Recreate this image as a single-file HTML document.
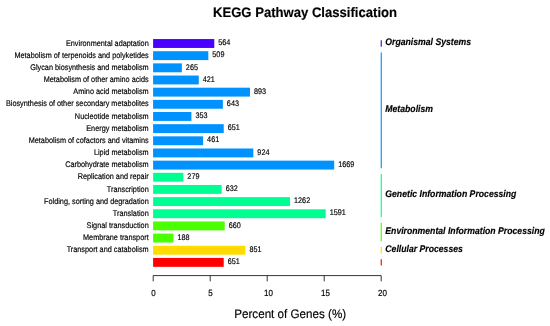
<!DOCTYPE html>
<html><head><meta charset="utf-8"><title>KEGG Pathway Classification</title>
<style>html,body{margin:0;padding:0;background:#fff}svg{display:block}text{text-rendering:geometricPrecision;font-family:"Liberation Sans",Arial,sans-serif;fill:#000;stroke:#000;stroke-width:0.15px}.l{font-size:7.3px;text-anchor:end}.v{font-size:7.25px}.t{font-size:8.0px;text-anchor:middle}.g{font-size:8.68px;font-weight:bold;font-style:italic}</style></head><body>
<svg width="550" height="326" viewBox="0 0 550 326">
<rect width="550" height="326" fill="#fff"/>
<text transform="translate(305.00 17.20) scale(1 1.05)" text-anchor="middle" font-size="13.1" font-weight="bold">KEGG Pathway Classification</text>
<rect x="153.10" y="39.05" width="61.19" height="8.90" fill="#4900FF"/>
<text class="l" transform="translate(148.70 45.60) scale(1 1.12)">Environmental adaptation</text>
<text class="v" transform="translate(218.29 45.20) scale(1 1.12)">564</text>
<rect x="153.10" y="51.21" width="55.23" height="8.90" fill="#0092FF"/>
<text class="l" transform="translate(148.70 57.76) scale(1 1.12)">Metabolism of terpenoids and polyketides</text>
<text class="v" transform="translate(212.33 57.36) scale(1 1.12)">509</text>
<rect x="153.10" y="63.37" width="28.75" height="8.90" fill="#0092FF"/>
<text class="l" transform="translate(148.70 69.92) scale(1 1.12)">Glycan biosynthesis and metabolism</text>
<text class="v" transform="translate(185.85 69.52) scale(1 1.12)">265</text>
<rect x="153.10" y="75.53" width="45.68" height="8.90" fill="#0092FF"/>
<text class="l" transform="translate(148.70 82.08) scale(1 1.12)">Metabolism of other amino acids</text>
<text class="v" transform="translate(202.78 81.68) scale(1 1.12)">421</text>
<rect x="153.10" y="87.69" width="96.89" height="8.90" fill="#0092FF"/>
<text class="l" transform="translate(148.70 94.24) scale(1 1.12)">Amino acid metabolism</text>
<text class="v" transform="translate(253.99 93.84) scale(1 1.12)">893</text>
<rect x="153.10" y="99.85" width="69.77" height="8.90" fill="#0092FF"/>
<text class="l" transform="translate(148.70 106.40) scale(1 1.12)">Biosynthesis of other secondary metabolites</text>
<text class="v" transform="translate(226.87 106.00) scale(1 1.12)">643</text>
<rect x="153.10" y="112.01" width="38.30" height="8.90" fill="#0092FF"/>
<text class="l" transform="translate(148.70 118.56) scale(1 1.12)">Nucleotide metabolism</text>
<text class="v" transform="translate(195.40 118.16) scale(1 1.12)">353</text>
<rect x="153.10" y="124.17" width="70.63" height="8.90" fill="#0092FF"/>
<text class="l" transform="translate(148.70 130.72) scale(1 1.12)">Energy metabolism</text>
<text class="v" transform="translate(227.73 130.32) scale(1 1.12)">651</text>
<rect x="153.10" y="136.33" width="50.02" height="8.90" fill="#0092FF"/>
<text class="l" transform="translate(148.70 142.88) scale(1 1.12)">Metabolism of cofactors and vitamins</text>
<text class="v" transform="translate(207.12 142.48) scale(1 1.12)">461</text>
<rect x="153.10" y="148.49" width="100.25" height="8.90" fill="#0092FF"/>
<text class="l" transform="translate(148.70 155.04) scale(1 1.12)">Lipid metabolism</text>
<text class="v" transform="translate(257.35 154.64) scale(1 1.12)">924</text>
<rect x="153.10" y="160.65" width="181.09" height="8.90" fill="#0092FF"/>
<text class="l" transform="translate(148.70 167.20) scale(1 1.12)">Carbohydrate metabolism</text>
<text class="v" transform="translate(338.19 166.80) scale(1 1.12)">1669</text>
<rect x="153.10" y="172.81" width="30.27" height="8.90" fill="#00FF92"/>
<text class="l" transform="translate(148.70 179.36) scale(1 1.12)">Replication and repair</text>
<text class="v" transform="translate(187.37 178.96) scale(1 1.12)">279</text>
<rect x="153.10" y="184.97" width="68.57" height="8.90" fill="#00FF92"/>
<text class="l" transform="translate(148.70 191.52) scale(1 1.12)">Transcription</text>
<text class="v" transform="translate(225.67 191.12) scale(1 1.12)">632</text>
<rect x="153.10" y="197.13" width="136.93" height="8.90" fill="#00FF92"/>
<text class="l" transform="translate(148.70 203.68) scale(1 1.12)">Folding, sorting and degradation</text>
<text class="v" transform="translate(294.03 203.28) scale(1 1.12)">1262</text>
<rect x="153.10" y="209.29" width="172.62" height="8.90" fill="#00FF92"/>
<text class="l" transform="translate(148.70 215.84) scale(1 1.12)">Translation</text>
<text class="v" transform="translate(329.72 215.44) scale(1 1.12)">1591</text>
<rect x="153.10" y="221.45" width="71.61" height="8.90" fill="#49FF00"/>
<text class="l" transform="translate(148.70 228.00) scale(1 1.12)">Signal transduction</text>
<text class="v" transform="translate(228.71 227.60) scale(1 1.12)">660</text>
<rect x="153.10" y="233.61" width="20.40" height="8.90" fill="#49FF00"/>
<text class="l" transform="translate(148.70 240.16) scale(1 1.12)">Membrane transport</text>
<text class="v" transform="translate(177.50 239.76) scale(1 1.12)">188</text>
<rect x="153.10" y="245.77" width="92.33" height="8.90" fill="#FFDB00"/>
<text class="l" transform="translate(148.70 252.32) scale(1 1.12)">Transport and catabolism</text>
<text class="v" transform="translate(249.43 251.92) scale(1 1.12)">851</text>
<rect x="153.10" y="257.93" width="70.63" height="8.90" fill="#FF0000"/>
<text class="v" transform="translate(227.73 264.08) scale(1 1.12)">651</text>
<line x1="381.25" x2="381.25" y1="40.30" y2="46.70" stroke="#4900FF" stroke-width="1.15"/>
<text class="g" transform="translate(385.30 45.30) scale(1 1.12)">Organismal Systems</text>
<line x1="381.25" x2="381.25" y1="52.46" y2="168.30" stroke="#0092FF" stroke-width="1.15"/>
<text class="g" transform="translate(385.30 112.18) scale(1 1.12)">Metabolism</text>
<line x1="381.25" x2="381.25" y1="174.06" y2="216.94" stroke="#00FF92" stroke-width="1.15"/>
<text class="g" transform="translate(385.30 197.30) scale(1 1.12)">Genetic Information Processing</text>
<line x1="381.25" x2="381.25" y1="222.70" y2="241.26" stroke="#49FF00" stroke-width="1.15"/>
<text class="g" transform="translate(385.30 233.78) scale(1 1.12)">Environmental Information Processing</text>
<line x1="381.25" x2="381.25" y1="247.02" y2="253.42" stroke="#FFDB00" stroke-width="1.15"/>
<text class="g" transform="translate(385.30 252.02) scale(1 1.12)">Cellular Processes</text>
<line x1="381.25" x2="381.25" y1="259.18" y2="265.58" stroke="#FF0000" stroke-width="1.15"/>
<path d="M153.2 275.6H381.2" stroke="#000" stroke-width="0.8" fill="none"/>
<path d="M153.20 275.6V281.4" stroke="#000" stroke-width="0.8" fill="none"/>
<text class="t" transform="translate(153.50 295.70) scale(1 1.12)">0</text>
<path d="M210.20 275.6V281.4" stroke="#000" stroke-width="0.8" fill="none"/>
<text class="t" transform="translate(210.50 295.70) scale(1 1.12)">5</text>
<path d="M267.20 275.6V281.4" stroke="#000" stroke-width="0.8" fill="none"/>
<text class="t" transform="translate(268.50 295.70) scale(1 1.12)">10</text>
<path d="M324.20 275.6V281.4" stroke="#000" stroke-width="0.8" fill="none"/>
<text class="t" transform="translate(325.50 295.70) scale(1 1.12)">15</text>
<path d="M381.20 275.6V281.4" stroke="#000" stroke-width="0.8" fill="none"/>
<text class="t" transform="translate(382.50 295.70) scale(1 1.12)">20</text>
<text transform="translate(290.20 318.30) scale(1 1.06)" text-anchor="middle" font-size="11.65">Percent of Genes (%)</text>
</svg>
</body></html>
